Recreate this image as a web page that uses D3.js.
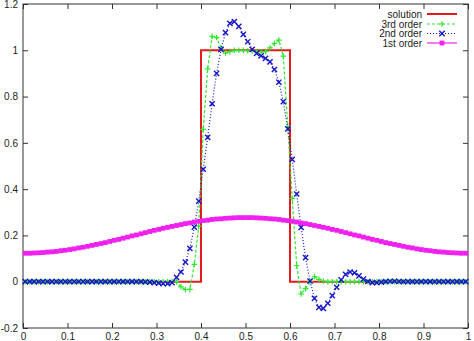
<!DOCTYPE html>
<html><head><meta charset="utf-8">
<script src="https://cdn.jsdelivr.net/npm/d3@7"></script>
<style>
html,body{margin:0;padding:0;background:#fff;}
svg{display:block;font-family:"Liberation Sans",Arial,Helvetica,sans-serif;}
</style></head>
<body><svg id="c" width="474" height="341"></svg>
<script>
// ---- data ----
const seriesNames = ["solution", "3rd order", "2nd order", "1st order"];
const xTickValues = [0,0.1,0.2,0.3,0.4,0.5,0.6,0.7,0.8,0.9,1];
const xTickLabels = ["0","0.1","0.2","0.3","0.4","0.5","0.6","0.7","0.8","0.9","1"];
const yTickValues = [-0.2,0,0.2,0.4,0.6,0.8,1,1.2];
const yTickLabels = ["-0.2","0","0.2","0.4","0.6","0.8","1","1.2"];

// exact solution: square wave
const solutionX = [0, 0.4, 0.4, 0.6, 0.6, 1];
const solutionY = [0, 0, 1, 1, 0, 0];

// numerical solutions at 100 cell centres
const thirdOrder = [
0,0,0,0,0,0,0,0,0,0, 0,0,0,0,0,0,0,0,0,0,
0,0,0,0,0,0,0,0,0,0, 0,0,0,0.001,0,-0.022,-0.034,-0.033,0.075,0.240,
0.658,0.920,1.060,1.055,1.010,0.988,0.994,1.000,1.000,1.000,
0.998,0.997,0.995,0.993,0.994,1.010,1.030,1.044,0.975,0.670,
0.360,0.070,-0.053,-0.030,0.000,0.022,0.010,0.003,0,0,
0,0,0,0,0,0,0,0,0,0, 0,0,0,0,0,0,0,0,0,0,
0,0,0,0,0,0,0,0,0,0];
const secondOrder = [
0,0,0,0,0,0,0,0,0,0, 0,0,0,0,0,0,0,0,0,0,
0,0,0,0,0,0,0,-0.001,-0.002,-0.004, -0.006,-0.008,-0.008,-0.004,0.019,0.042,0.085,0.144,0.236,0.348,
0.486,0.624,0.769,0.900,1.004,1.076,1.116,1.124,1.103,1.069,
1.037,1.004,0.987,0.976,0.965,0.950,0.917,0.862,0.778,0.660,
0.529,0.379,0.235,0.104,0.003,-0.072,-0.111,-0.115,-0.093,-0.060,
-0.024,0.008,0.032,0.042,0.038,0.025,0.011,0.001,-0.004,-0.004,
-0.002,0.000,0.002,0.002,0.001,0,0,0,0,0,
0,0,0,0,0,0,0,0,0,0];
const firstOrder = [
0.123,0.123,0.124,0.125,0.126,0.128,0.129,0.131,0.134,0.136,
0.139,0.142,0.146,0.149,0.153,0.157,0.161,0.165,0.169,0.174,
0.179,0.183,0.188,0.193,0.198,0.202,0.207,0.212,0.217,0.222,
0.226,0.231,0.235,0.239,0.243,0.247,0.251,0.254,0.258,0.261,
0.264,0.266,0.269,0.271,0.272,0.274,0.275,0.276,0.277,0.277,
0.277,0.277,0.276,0.275,0.274,0.272,0.271,0.269,0.266,0.264,
0.261,0.258,0.254,0.251,0.247,0.243,0.239,0.235,0.231,0.226,
0.222,0.217,0.212,0.207,0.202,0.198,0.193,0.188,0.183,0.179,
0.174,0.169,0.165,0.161,0.157,0.153,0.149,0.146,0.142,0.139,
0.136,0.134,0.131,0.129,0.128,0.126,0.125,0.124,0.123,0.123];
const gridX = d3.range(100).map(i => (i + 0.5) / 100);

// ---- drawing ----
const svg = d3.select("#c");
const L = 23, R = 468, T = 4, B = 328;
const x = d3.scaleLinear().domain([0, 1]).range([L, R]);
const y = d3.scaleLinear().domain([-0.2, 1.2]).range([B, T]);
const frameColor = "#333";

const colors = {sol: "#e41a1c", o3: "#2ee82e", o2: "#1414c8", o1: "#f020f0"};

// axes (ticks inward, mirrored)
const gx = svg.append("g").attr("transform", `translate(0,${B})`)
  .call(d3.axisBottom(x).tickValues(xTickValues).tickFormat((d,i)=>xTickLabels[i])
    .tickSizeInner(-5).tickSizeOuter(0).tickPadding(5));
const gxt = svg.append("g").attr("transform", `translate(0,${T})`)
  .call(d3.axisTop(x).tickValues(xTickValues).tickFormat("")
    .tickSizeInner(-5).tickSizeOuter(0));
const gy = svg.append("g").attr("transform", `translate(${L},0)`)
  .call(d3.axisLeft(y).tickValues(yTickValues).tickFormat((d,i)=>yTickLabels[i])
    .tickSizeInner(-5).tickSizeOuter(0).tickPadding(5));
const gyr = svg.append("g").attr("transform", `translate(${R},0)`)
  .call(d3.axisRight(y).tickValues(yTickValues).tickFormat("")
    .tickSizeInner(-5).tickSizeOuter(0));
[gx,gxt,gy,gyr].forEach(g => {
  g.select(".domain").remove();
  g.selectAll("line").attr("stroke", frameColor);
  g.selectAll("text").attr("fill", "#222").style("font-size", "10px")
   .style("font-family", "'Liberation Sans',Arial,sans-serif");
});

svg.append("rect").attr("x", L).attr("y", T).attr("width", R - L).attr("height", B - T)
  .attr("fill", "none").attr("stroke", frameColor).attr("stroke-width", 1);

const plot = svg.append("g");
const line = d3.line().x(d => x(d[0])).y(d => y(d[1]));

// solution
plot.append("path").datum(solutionX.map((v,i)=>[v, solutionY[i]]))
  .attr("d", line).attr("fill", "none").attr("stroke", colors.sol).attr("stroke-width", 2);

function plus(g, cx, cy, s, c) {
  g.append("path").attr("d", `M${cx-s},${cy}H${cx+s}M${cx},${cy-s}V${cy+s}`)
   .attr("stroke", c).attr("stroke-width", 1.2).attr("fill", "none");
}
function cross(g, cx, cy, s, c) {
  g.append("path").attr("d", `M${cx-s},${cy-s}L${cx+s},${cy+s}M${cx-s},${cy+s}L${cx+s},${cy-s}`)
   .attr("stroke", c).attr("stroke-width", 1.4).attr("fill", "none");
}
function square(g, cx, cy, s, c) {
  g.append("rect").attr("x", cx-s).attr("y", cy-s).attr("width", 2*s).attr("height", 2*s).attr("fill", c);
}

// 3rd order
const d3rd = gridX.map((v,i)=>[v, thirdOrder[i]]);
plot.append("path").datum(d3rd).attr("d", line).attr("fill","none")
  .attr("stroke", colors.o3).attr("stroke-width", 1.2).attr("stroke-dasharray", "3,2");
const g3 = plot.append("g");
d3rd.forEach(d => plus(g3, x(d[0]), y(d[1]), 2.8, colors.o3));

// 2nd order
const d2nd = gridX.map((v,i)=>[v, secondOrder[i]]);
plot.append("path").datum(d2nd).attr("d", line).attr("fill","none")
  .attr("stroke", colors.o2).attr("stroke-width", 1.2).attr("stroke-dasharray", "1,2");
const g2 = plot.append("g");
d2nd.forEach(d => cross(g2, x(d[0]), y(d[1]), 2.6, colors.o2));

// 1st order
const d1st = gridX.map((v,i)=>[v, firstOrder[i]]);
plot.append("path").datum(d1st).attr("d", line).attr("fill","none")
  .attr("stroke", colors.o1).attr("stroke-width", 1.2);
const g1 = plot.append("g");
d1st.forEach(d => square(g1, x(d[0]), y(d[1]), 2.4, colors.o1));

// legend
const lg = svg.append("g");
const legendRows = [14, 24, 33.5, 43];
const styles = [
  {c: colors.sol, w: 2, dash: null, m: null},
  {c: colors.o3, w: 1.2, dash: "3,2", m: plus},
  {c: colors.o2, w: 1.2, dash: "1,2", m: cross},
  {c: colors.o1, w: 1.2, dash: null, m: square}
];
seriesNames.forEach((name, i) => {
  const yy = legendRows[i], st = styles[i];
  lg.append("text").attr("x", 422).attr("y", yy).attr("dy", "0.35em")
    .attr("text-anchor", "end").style("font-size", "10px").attr("fill", "#222").text(name);
  lg.append("line").attr("x1", 427).attr("x2", 457).attr("y1", yy).attr("y2", yy)
    .attr("stroke", st.c).attr("stroke-width", st.w).attr("stroke-dasharray", st.dash);
  if (st.m) st.m(lg, 442, yy, st.m === square ? 2.4 : 2.7, st.c);
});
</script></body></html>
